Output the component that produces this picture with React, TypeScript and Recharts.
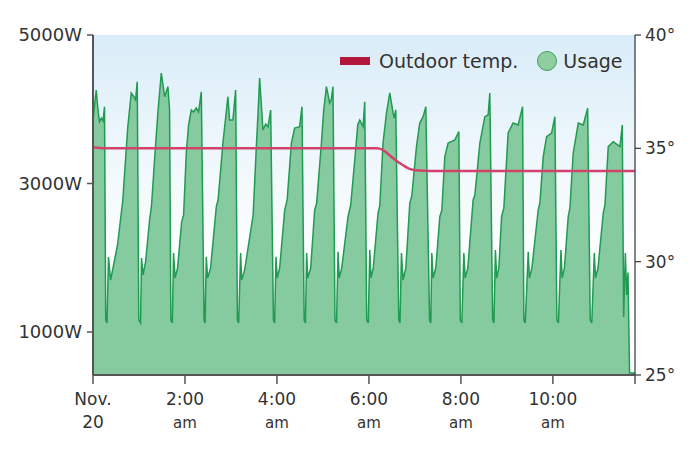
import React from "react";
import {
  ComposedChart,
  Area,
  Line,
  XAxis,
  YAxis,
  CartesianGrid,
} from "recharts";

// Minutes after midnight, Nov. 20, for each usage reading
const usageMinutes: number[] = [
  0, 4.2, 6.5, 8.5, 11.1, 13.1, 15.0, 16.6,
  18.3, 20.2, 22.9, 26.1, 32.0, 38.9, 42.4, 45.4, 49.9, 53.3, 55.5, 57.7, 59.8,
  62.0, 63.3, 65.3, 68.6, 73.8, 76.4, 80.3, 84.6, 89.1, 93.4, 97.7, 99.9, 101.6,
  103.5, 105.1, 107.1, 110.3, 115.6, 118.2, 121.7, 124.7, 128.2, 131.2, 134.8, 137.8, 141.3, 144.9,
  146.2, 147.8, 149.5, 153.4, 160.9, 163.2, 169.5, 173.0, 176.0, 178.2, 182.5, 186.1, 188.4,
  190.0, 192.6, 193.9, 197.8, 206.6, 208.9, 213.1, 215.5, 217.4, 221.7, 225.3, 228.3, 231.8, 235.4,
  237.0, 238.7, 240.3, 243.5, 250.1, 253.3, 258.8, 263.1, 269.6, 272.6, 275.5,
  277.2, 278.7, 280.1, 284.0, 289.2, 291.8, 298.0, 301.0, 304.5, 308.8, 310.8, 313.1, 315.7,
  317.7, 319.7, 321.2, 324.5, 332.7, 336.2, 341.5, 345.4, 348.0, 352.3, 354.5, 357.1,
  359.1, 361.1, 362.6, 365.6, 371.9, 374.1, 378.4, 382.9, 387.2, 391.5, 393.0, 395.0, 398.9,
  400.5, 402.4, 404.5, 408.1, 413.3, 415.9, 422.0, 426.3, 430.7, 434.2, 439.1,
  440.7, 442.0, 443.7, 447.2, 452.5, 455.1, 459.0, 463.3, 472.0, 477.3, 479.2,
  481.2, 483.8, 485.5, 489.0, 495.9, 498.2, 504.7, 511.2, 515.5, 517.7, 521.4,
  523.0, 525.0, 526.7, 529.5, 533.0, 536.0, 541.6, 548.1, 554.7, 560.4, 562.1,
  563.9, 567.8, 569.3, 572.6, 580.8, 583.0, 587.4, 591.8, 598.3, 602.6, 605.2,
  607.2, 610.5, 612.0, 615.0, 620.0, 622.2, 626.5, 633.1, 639.6, 645.3, 648.7,
  650.7, 654.0, 655.5, 658.8, 665.7, 667.9, 672.2, 678.8, 687.5, 690.5, 692.3, 694.5, 696.3, 698.0, 700.0, 707.1,
];

// Power usage in watts at each of those minutes
const usageWatts: number[] = [
  3855, 4259, 3990, 3832, 3882, 3842, 4034, 1162,
  1121, 2010, 1700, 1862, 2172, 2778, 3317, 3765, 4219, 4169, 4125, 4371, 1162,
  1121, 1997, 1768, 1943, 2508, 2710, 3317, 3950, 4488, 4169, 4304, 3990, 1162,
  1121, 2064, 1727, 1862, 2481, 2576, 3411, 3788, 3990, 3963, 4017, 3963, 4236, 1162,
  1121, 2014, 1727, 1862, 2688, 2778, 3545, 3882, 4169, 3855, 3855, 4259, 1162,
  1121, 2064, 1700, 1835, 2418, 2576, 3496, 3990, 4421, 3721, 3801, 3765, 3990, 1162,
  1121, 2014, 1727, 1862, 2643, 2778, 3545, 3747, 3765, 4034, 1162,
  1121, 2064, 1727, 1862, 2643, 2737, 3545, 3990, 4304, 4084, 4125, 4304, 1162,
  1121, 2081, 1727, 1862, 2553, 2710, 3317, 3788, 3855, 3765, 4102, 1162,
  1121, 2104, 1727, 1862, 2603, 2697, 3545, 3950, 4219, 3950, 3882, 3990, 1162,
  1121, 2064, 1700, 1862, 2737, 2832, 3496, 3815, 3900, 4034, 1162,
  1121, 2064, 1727, 1862, 2553, 2643, 3361, 3545, 3586, 3698, 1162,
  1121, 2064, 1727, 1862, 2778, 2845, 3545, 3900, 3923, 4219, 1162,
  1121, 2104, 1727, 1862, 2553, 2670, 3680, 3815, 3788, 4034, 1162,
  1121, 2081, 1727, 1862, 2643, 2737, 3361, 3630, 3680, 3900, 1162,
  1121, 2104, 1727, 1862, 2553, 2670, 3411, 3815, 3788, 4013, 1162,
  1121, 2064, 1727, 1862, 2603, 2710, 3496, 3563, 3496, 3788, 1200, 2064, 1500, 1800, 448, 448,
];

// Outdoor temperature (°) readings
const tempMinutes: number[] = [0, 15, 370, 378, 385, 392, 400, 408, 415, 425, 440, 707.1];
const tempDegrees: number[] = [35.05, 35.0, 35.0, 34.93, 34.75, 34.55, 34.35, 34.18, 34.07, 34.02, 34.0, 34.0];

// Bottom axis ticks (minutes) and their two-line labels
const timeTicks: number[] = [0, 120, 240, 360, 480, 600, 707.1];
const timeLabelTop: string[] = ["Nov.", "2:00", "4:00", "6:00", "8:00", "10:00", ""];
const timeLabelBottom: string[] = ["20", "am", "am", "am", "am", "am", ""];

const wattTicks: number[] = [1000, 3000, 5000];
const degreeTicks: number[] = [25, 30, 35, 40];

const usageRows = usageMinutes.map((minute, i) => ({ minute, usage: usageWatts[i] }));
const tempRows = tempMinutes.map((minute, i) => ({ minute, temp: tempDegrees[i] }));

const FONT = "'DejaVu Sans', sans-serif";
const TEXT = "#333333";

const TimeTick = (props: any) => {
  const { x, y, payload } = props;
  const idx = timeTicks.indexOf(payload.value);
  const top = timeLabelTop[idx] ?? "";
  const bottom = timeLabelBottom[idx] ?? "";
  const isDate = idx === 0;
  return (
    <text x={x} y={y} textAnchor="middle" fill={TEXT} fontFamily={FONT}>
      <tspan x={x} dy={19} fontSize={17}>
        {top}
      </tspan>
      <tspan x={x} dy={23} fontSize={isDate ? 17 : 15}>
        {bottom}
      </tspan>
    </text>
  );
};

// Legend drawn as an overlay so it does not shift the plot area
const LegendBox = () => (
  <div
    style={{
      position: "absolute",
      left: 340,
      top: 50,
      display: "flex",
      alignItems: "center",
      fontFamily: FONT,
      fontSize: 19,
      lineHeight: "22px",
      color: TEXT,
      whiteSpace: "nowrap",
    }}
  >
    <span
      style={{ display: "inline-block", width: 30, height: 8, background: "#b3173c", marginRight: 9 }}
    />
    <span>Outdoor temp.</span>
    <span
      style={{
        display: "inline-block",
        boxSizing: "border-box",
        width: 20,
        height: 20,
        borderRadius: "50%",
        background: "#8fcf9f",
        border: "1px solid #3f9d5c",
        marginLeft: 19,
        marginRight: 6,
      }}
    />
    <span>Usage</span>
  </div>
);

export default function App() {
  return (
    <div style={{ position: "absolute", left: 0, top: 0, width: 700, height: 457, background: "#ffffff" }}>
      <ComposedChart
        width={700}
        height={457}
        margin={{ top: 35, right: 7, bottom: 22, left: 13 }}
      >
        <defs>
          <linearGradient id="skyFade" x1="0" y1="0" x2="0" y2="1">
            <stop offset="0%" stopColor="#d9ecf8" />
            <stop offset="35%" stopColor="#eff7fc" />
            <stop offset="70%" stopColor="#ffffff" />
            <stop offset="100%" stopColor="#ffffff" />
          </linearGradient>
        </defs>
        <CartesianGrid horizontal={false} vertical={false} fill="url(#skyFade)" />
        <XAxis
          dataKey="minute"
          type="number"
          domain={[0, 707.1]}
          ticks={timeTicks}
          allowDataOverflow
          height={60}
          tick={<TimeTick />}
          tickSize={9}
          interval={0}
          axisLine={{ stroke: "#555555", strokeWidth: 2 }}
          tickLine={{ stroke: "#555555", strokeWidth: 1.5 }}
        />
        <YAxis
          yAxisId="w"
          type="number"
          domain={[421, 5000]}
          ticks={wattTicks}
          allowDataOverflow
          width={80}
          tickFormatter={(v: number) => `${v}W`}
          tick={{ fill: TEXT, fontSize: 18, fontFamily: FONT }}
          tickSize={6}
          tickMargin={5}
          axisLine={{ stroke: "#555555", strokeWidth: 2 }}
          tickLine={{ stroke: "#555555", strokeWidth: 1.5 }}
        />
        <YAxis
          yAxisId="t"
          orientation="right"
          type="number"
          domain={[25, 40]}
          ticks={degreeTicks}
          allowDataOverflow
          width={58}
          tickFormatter={(v: number) => `${v}°`}
          tick={{ fill: TEXT, fontSize: 17, fontFamily: FONT }}
          tickSize={6}
          tickMargin={4}
          axisLine={{ stroke: "#333333", strokeWidth: 1.2 }}
          tickLine={{ stroke: "#333333", strokeWidth: 1.2 }}
        />
        <Area
          yAxisId="w"
          data={usageRows}
          dataKey="usage"
          name="Usage"
          type="linear"
          stroke="#219a52"
          strokeWidth={1.5}
          fill="#86caa0"
          fillOpacity={1}
          isAnimationActive={false}
          dot={false}
          activeDot={false}
        />
        <Line
          yAxisId="t"
          data={tempRows}
          dataKey="temp"
          name="Outdoor temp."
          type="monotone"
          stroke="#d2426b"
          strokeWidth={2.5}
          dot={false}
          activeDot={false}
          isAnimationActive={false}
        />
      </ComposedChart>
      <LegendBox />
    </div>
  );
}
